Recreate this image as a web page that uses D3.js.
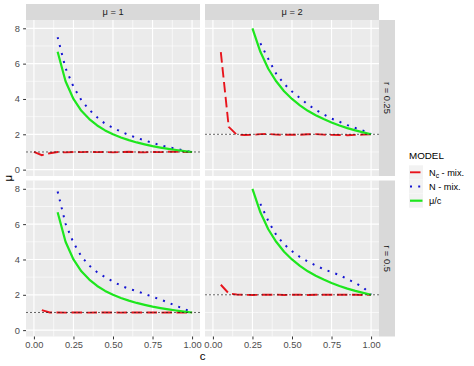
<!DOCTYPE html>
<html><head><meta charset="utf-8">
<script src="https://cdn.jsdelivr.net/npm/d3@7"></script>
<style>
body{margin:0;background:#fff}
svg{display:block}
text{font-family:"Liberation Sans",Arial,sans-serif}
</style>
</head><body>
<svg id="chart" width="474" height="366"></svg>
<script>
// ---------- data ----------
const muLevels = [1, 2];
const rLevels = [0.25, 0.5];
const xTicks = [0, 0.25, 0.5, 0.75, 1];
const xTickLabels = ["0.00", "0.25", "0.50", "0.75", "1.00"];
const xMinor = [0.125, 0.375, 0.625, 0.875];
const yTicks = [0, 2, 4, 6, 8];
const yMinor = [1, 3, 5, 7];
const modelLabels = ["Nc - mix.", "N - mix.", "mu/c"];

// c grids (x values)
const cFrom000 = [0.00,0.05,0.10,0.15,0.20,0.25,0.30,0.35,0.40,0.45,0.50,0.55,0.60,0.65,0.70,0.75,0.80,0.85,0.90,0.95,1.00];
const cFrom005 = [0.05,0.10,0.15,0.20,0.25,0.30,0.35,0.40,0.45,0.50,0.55,0.60,0.65,0.70,0.75,0.80,0.85,0.90,0.95,1.00];
const cFrom015 = [0.15,0.20,0.25,0.30,0.35,0.40,0.45,0.50,0.55,0.60,0.65,0.70,0.75,0.80,0.85,0.90,0.95,1.00];
const cFrom025 = [0.25,0.30,0.35,0.40,0.45,0.50,0.55,0.60,0.65,0.70,0.75,0.80,0.85,0.90,0.95,1.00];
const cFrom030 = [0.30,0.35,0.40,0.45,0.50,0.55,0.60,0.65,0.70,0.75,0.80,0.85,0.90,0.95,1.00];

// mu/c (green)
const ratioMu1 = [6.67,5.00,4.00,3.33,2.86,2.50,2.22,2.00,1.82,1.67,1.54,1.43,1.33,1.25,1.18,1.11,1.05,1.00];
const ratioMu2 = [8.00,6.67,5.71,5.00,4.44,4.00,3.64,3.33,3.08,2.86,2.67,2.50,2.35,2.22,2.11,2.00];

// N - mix. (blue dotted)
const nMixMu1R025 = [7.50,5.74,4.70,3.93,3.39,2.96,2.60,2.37,2.15,1.96,1.80,1.65,1.52,1.38,1.26,1.19,1.08,1.00];
const nMixMu1R05  = [7.85,6.02,4.95,4.18,3.65,3.28,3.00,2.75,2.52,2.34,2.21,2.05,1.89,1.73,1.56,1.37,1.20,1.00];
const nMixMu2R025 = [7.15,6.27,5.43,4.86,4.42,4.05,3.69,3.38,3.13,2.89,2.71,2.52,2.36,2.20,2.02];
const nMixMu2R05  = [7.15,6.18,5.39,4.86,4.47,4.14,3.88,3.66,3.45,3.28,3.12,2.89,2.67,2.42,2.00];

// Nc - mix. (red dashed)
const ncMixMu1R025 = [1.00,0.82,0.93,1.00,0.98,1.00,0.99,1.01,0.99,1.00,0.98,1.00,1.01,0.99,0.98,1.00,0.99,1.01,1.02,1.00,0.99];
const ncMixMu1R05  = [1.13,1.00,1.00,0.99,1.00,1.00,0.99,1.00,1.00,1.00,0.99,1.00,1.00,1.00,1.00,0.99,1.00,1.00,1.00,1.00];
const ncMixMu2R025 = [6.65,2.42,1.98,1.96,1.97,2.01,2.02,1.98,1.97,1.98,1.97,2.00,2.01,1.98,1.97,1.96,1.95,1.97,1.98,2.00];
const ncMixMu2R05  = [2.57,2.08,2.02,2.00,1.99,2.00,2.00,2.01,1.99,2.00,2.00,1.99,2.00,2.00,2.00,2.00,2.00,2.00,1.99,2.00];

// ---------- layout ----------
const svg = d3.select("#chart");
const colX = [[26, 200], [205, 379]];
const rowY = [[20, 176], [180.5, 336.5]];
const xDomain = [-0.05, 1.05];
const yDomain = [-0.36, 8.47];
const colors = {red: "#E8141C", blue: "#1414D2", green: "#1EE61E"};

const panels = [
  {row:0, col:0, mu:muLevels[0], r:rLevels[0], red:[cFrom000, ncMixMu1R025], blue:[cFrom015, nMixMu1R025], green:[cFrom015, ratioMu1]},
  {row:0, col:1, mu:muLevels[1], r:rLevels[0], red:[cFrom005, ncMixMu2R025], blue:[cFrom030, nMixMu2R025], green:[cFrom025, ratioMu2]},
  {row:1, col:0, mu:muLevels[0], r:rLevels[1], red:[cFrom005, ncMixMu1R05],  blue:[cFrom015, nMixMu1R05],  green:[cFrom015, ratioMu1]},
  {row:1, col:1, mu:muLevels[1], r:rLevels[1], red:[cFrom005, ncMixMu2R05],  blue:[cFrom030, nMixMu2R05],  green:[cFrom025, ratioMu2]},
];

const toPts = ([cs, vs]) => cs.map((c, i) => [c, vs[i]]);

panels.forEach(p => {
  const x = d3.scaleLinear().domain(xDomain).range(colX[p.col]);
  const y = d3.scaleLinear().domain(yDomain).range([rowY[p.row][1], rowY[p.row][0]]);
  const g = svg.append("g");
  const [x0, x1] = colX[p.col], [y0, y1] = rowY[p.row];
  g.append("rect").attr("x", x0).attr("y", y0).attr("width", x1 - x0).attr("height", y1 - y0).attr("fill", "#EBEBEB");
  // minor grid
  g.selectAll(".vminor").data(xMinor).enter().append("line")
    .attr("x1", d => x(d)).attr("x2", d => x(d)).attr("y1", y0).attr("y2", y1)
    .attr("stroke", "#fff").attr("stroke-width", 0.6);
  g.selectAll(".hminor").data(yMinor).enter().append("line")
    .attr("y1", d => y(d)).attr("y2", d => y(d)).attr("x1", x0).attr("x2", x1)
    .attr("stroke", "#fff").attr("stroke-width", 0.6);
  // major grid
  g.selectAll(".vmajor").data(xTicks).enter().append("line")
    .attr("x1", d => x(d)).attr("x2", d => x(d)).attr("y1", y0).attr("y2", y1)
    .attr("stroke", "#fff").attr("stroke-width", 1.15);
  g.selectAll(".hmajor").data(yTicks).enter().append("line")
    .attr("y1", d => y(d)).attr("y2", d => y(d)).attr("x1", x0).attr("x2", x1)
    .attr("stroke", "#fff").attr("stroke-width", 1.15);

  const line = d3.line().x(d => x(d[0])).y(d => y(d[1]));
  g.append("path").attr("d", line(toPts(p.red))).attr("fill", "none")
    .attr("stroke", colors.red).attr("stroke-width", 1.9).attr("stroke-dasharray", "10.5,4.5");
  g.append("path").attr("d", line(toPts(p.blue))).attr("fill", "none")
    .attr("stroke", colors.blue).attr("stroke-width", 2).attr("stroke-dasharray", "2,6.2");
  g.append("path").attr("d", line(toPts(p.green))).attr("fill", "none")
    .attr("stroke", colors.green).attr("stroke-width", 2.2).attr("stroke-linejoin", "round");
  // reference line at mu
  g.append("line").attr("x1", x0).attr("x2", x1).attr("y1", y(p.mu)).attr("y2", y(p.mu))
    .attr("stroke", "#222").attr("stroke-width", 0.7).attr("stroke-dasharray", "2,2");

  // strips
  if (p.row === 0) {
    svg.append("rect").attr("x", x0).attr("y", 4).attr("width", x1 - x0).attr("height", y0 - 4).attr("fill", "#D9D9D9");
    svg.append("text").attr("x", (x0 + x1) / 2).attr("y", (4 + y0) / 2 + 3.2)
      .attr("text-anchor", "middle").attr("font-size", 9.3).attr("fill", "#1A1A1A")
      .text("\u03bc = " + p.mu);
  }
  if (p.col === 1) {
    svg.append("rect").attr("x", x1).attr("y", y0).attr("width", 16).attr("height", y1 - y0).attr("fill", "#D9D9D9");
    const cy = (y0 + y1) / 2, cx = x1 + 8;
    svg.append("text").attr("transform", `translate(${cx - 3.2},${cy}) rotate(90)`)
      .attr("text-anchor", "middle").attr("font-size", 9.3).attr("fill", "#1A1A1A")
      .text("r = " + p.r);
  }
  // axes
  if (p.col === 0) {
    const ax = svg.append("g").attr("transform", `translate(${x0},0)`)
      .call(d3.axisLeft(y).tickValues(yTicks).tickSize(2.9).tickPadding(3.2).tickFormat(d3.format("d")));
    styleAxis(ax);
  }
  if (p.row === 1) {
    const ax = svg.append("g").attr("transform", `translate(0,${y1})`)
      .call(d3.axisBottom(x).tickValues(xTicks).tickSize(2.9).tickPadding(2.3).tickFormat((d, i) => xTickLabels[i]));
    styleAxis(ax);
  }
});

function styleAxis(ax) {
  ax.select(".domain").remove();
  ax.selectAll(".tick line").attr("stroke", "#333").attr("stroke-width", 1);
  ax.selectAll(".tick text").attr("fill", "#4D4D4D").attr("font-size", 9.3)
    .attr("font-family", '"Liberation Sans",Arial,sans-serif');
}

// axis titles
svg.append("text").attr("x", (colX[0][0] + colX[1][1]) / 2).attr("y", 360)
  .attr("text-anchor", "middle").attr("font-size", 11.5).attr("fill", "#000").text("c");
svg.append("text").attr("transform", `translate(12,${(rowY[0][0] + rowY[1][1]) / 2}) rotate(-90)`)
  .attr("text-anchor", "middle").attr("font-size", 11.5).attr("fill", "#000").text("\u03bc");

// legend
const leg = svg.append("g");
const lx = 409, keySize = 14, keyStep = 14.2, firstKeyY = 165.3;
leg.append("text").attr("x", lx).attr("y", 158.6).attr("font-size", 9.8).attr("fill", "#000").text("MODEL");
const legendStyles = [
  {color: colors.red, w: 1.9, dash: "10.5,4.5"},
  {color: colors.blue, w: 2, dash: "2,6.2"},
  {color: colors.green, w: 2.2, dash: null},
];
modelLabels.forEach((lab, i) => {
  const ky = firstKeyY + i * keyStep;
  leg.append("rect").attr("x", lx).attr("y", ky).attr("width", keySize).attr("height", keySize).attr("fill", "#F2F2F2");
  const st = legendStyles[i];
  const ln = leg.append("line").attr("x1", lx + 1).attr("x2", lx + keySize - 0.5)
    .attr("y1", ky + keySize / 2).attr("y2", ky + keySize / 2)
    .attr("stroke", st.color).attr("stroke-width", st.w);
  if (st.dash) ln.attr("stroke-dasharray", st.dash);
  const t = leg.append("text").attr("x", 429).attr("y", ky + keySize / 2 + 3.3)
    .attr("font-size", 9.2).attr("fill", "#000");
  if (i === 0) {
    t.append("tspan").text("N");
    t.append("tspan").attr("font-size", 6.8).attr("dy", 2.4).text("c");
    t.append("tspan").attr("dy", -2.4).text(" - mix.");
  } else if (i === 1) {
    t.text("N - mix.");
  } else {
    t.text("\u03bc/c");
  }
});
</script>
</body></html>
